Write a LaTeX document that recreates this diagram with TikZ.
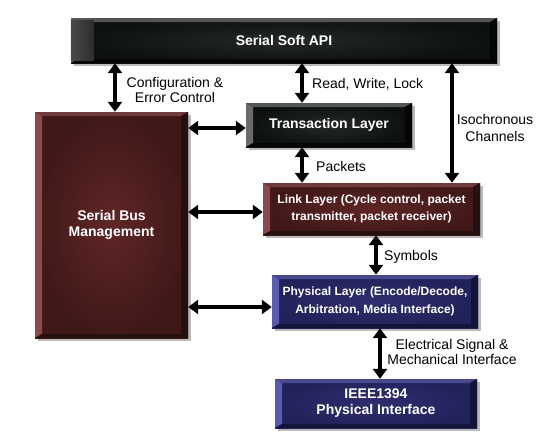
\documentclass[tikz,border=0pt]{standalone}
\usepackage{fontspec}
\setmainfont{Liberation Sans}
\usetikzlibrary{arrows.meta,shadows}
\definecolor{blkmain}{HTML}{0C1010}
\definecolor{blkinner}{HTML}{262828}
\definecolor{blklight}{HTML}{6A6A6A}
\definecolor{blkdark}{HTML}{050505}
\definecolor{capleft}{HTML}{4A4A4A}
\definecolor{capright}{HTML}{2C2C2C}
\definecolor{redmain}{HTML}{401818}
\definecolor{redinner}{HTML}{602626}
\definecolor{redlight}{HTML}{8E4A4A}
\definecolor{reddark}{HTML}{241010}
\definecolor{bluemain}{HTML}{22225A}
\definecolor{blueinner}{HTML}{2E2E70}
\definecolor{bluelight}{HTML}{5A5AB0}
\definecolor{bluedark}{HTML}{14143A}
\tikzset{
  bevbox/.style n args={4}{inner sep=0pt, align=center, text=white,
    font=\fontsize{14}{16}\selectfont\bfseries,
    shading=radial, inner color=#2, outer color=#1,
    drop shadow={shadow xshift=3pt, shadow yshift=-3pt, opacity=0.45, fill=black!60},
    path picture={
      \coordinate (pnw) at (path picture bounding box.north west);
      \coordinate (pne) at (path picture bounding box.north east);
      \coordinate (psw) at (path picture bounding box.south west);
      \coordinate (pse) at (path picture bounding box.south east);
      \fill[#3] (pnw) -- (psw) -- ([shift={(7pt,4pt)}]psw) -- ([shift={(7pt,-4pt)}]pnw) -- cycle;
      \fill[#3!80!black] (pnw) -- (pne) -- ([shift={(-7pt,-4pt)}]pne) -- ([shift={(7pt,-4pt)}]pnw) -- cycle;
      \fill[#4] (pne) -- (pse) -- ([shift={(-7pt,4pt)}]pse) -- ([shift={(-7pt,-4pt)}]pne) -- cycle;
      \fill[#4] (psw) -- (pse) -- ([shift={(-7pt,4pt)}]pse) -- ([shift={(7pt,4pt)}]psw) -- cycle;
    }},
  blkbox/.style={bevbox={blkmain}{blkinner}{blklight}{blkdark}},
  redbox/.style={bevbox={redmain}{redinner}{redlight}{reddark}},
  bluebox/.style={bevbox={bluemain}{blueinner}{bluelight}{bluedark}},
  smalltext/.style={font=\fontsize{12}{17.5}\selectfont\bfseries},
  arr/.style={line width=3.4pt, {Triangle[length=10pt,width=14pt]}-{Triangle[length=10pt,width=14pt]}},
  lbl/.style={font=\fontsize{14}{15.5}\selectfont, align=center, inner sep=0pt},
  endcap/.style={left color=capleft, right color=capright}
}
\begin{document}
\begin{tikzpicture}[x=1pt,y=-1pt]
\useasboundingbox[fill=white] (0,0) rectangle (550,440);
\node[blkbox, minimum width=426pt, minimum height=45pt] (api) at (284,40.5) {Serial Soft API};
\fill[endcap] ([yshift=-3pt]api.north west) rectangle ([xshift=23pt,yshift=3pt]api.south west);
\node[blkbox, minimum width=166pt, minimum height=44pt] (trans) at (329,125) {Transaction Layer};
\node[redbox, minimum width=153pt, minimum height=226pt] (sbm) at (111.5,225) {Serial Bus\\Management};
\node[redbox, smalltext, minimum width=217pt, minimum height=52pt] (link) at (371.5,209) {Link Layer (Cycle control, packet\\transmitter, packet receiver)};
\node[bluebox, smalltext, minimum width=206pt, minimum height=53pt] (phys) at (375,301.5) {Physical Layer (Encode/Decode,\\Arbitration, Media Interface)};
\node[bluebox, minimum width=202pt, minimum height=49pt] (ieee) at (376,403.5) {IEEE1394\\Physical Interface};
\coordinate (xa) at (115,0);
\coordinate (xb) at (302,0);
\coordinate (xc) at (452,0);
\coordinate (xd) at (376,0);
\coordinate (xe) at (380,0);
\coordinate (ya) at (0,128);
\coordinate (yb) at (0,212);
\coordinate (yc) at (0,307);
\draw[arr] (xa |- api.south) -- (xa |- sbm.north);
\draw[arr] (xb |- api.south) -- (xb |- trans.north);
\draw[arr] (xb |- trans.south) -- (xb |- link.north);
\draw[arr] (xc |- api.south) -- (xc |- link.north);
\draw[arr] (xd |- link.south) -- (xd |- phys.north);
\draw[arr] (xe |- phys.south) -- (xe |- ieee.north);
\draw[arr] (sbm.east |- ya) -- (trans.west |- ya);
\draw[arr] (sbm.east |- yb) -- (link.west |- yb);
\draw[arr] (sbm.east |- yc) -- (phys.west |- yc);
\node[lbl] (l1) at (175,90) {Configuration \&\\Error Control};
\node[lbl, anchor=west] (l2) at (312,84) {Read, Write, Lock};
\node[lbl, anchor=west] (l3) at (316,166) {Packets};
\node[lbl, font=\fontsize{14}{17}\selectfont] (l4) at (495,128) {Isochronous\\Channels};
\node[lbl, anchor=west] (l5) at (384,257) {Symbols};
\node[lbl] (l6) at (452,352) {Electrical Signal \&\\Mechanical Interface};
\end{tikzpicture}
\end{document}
